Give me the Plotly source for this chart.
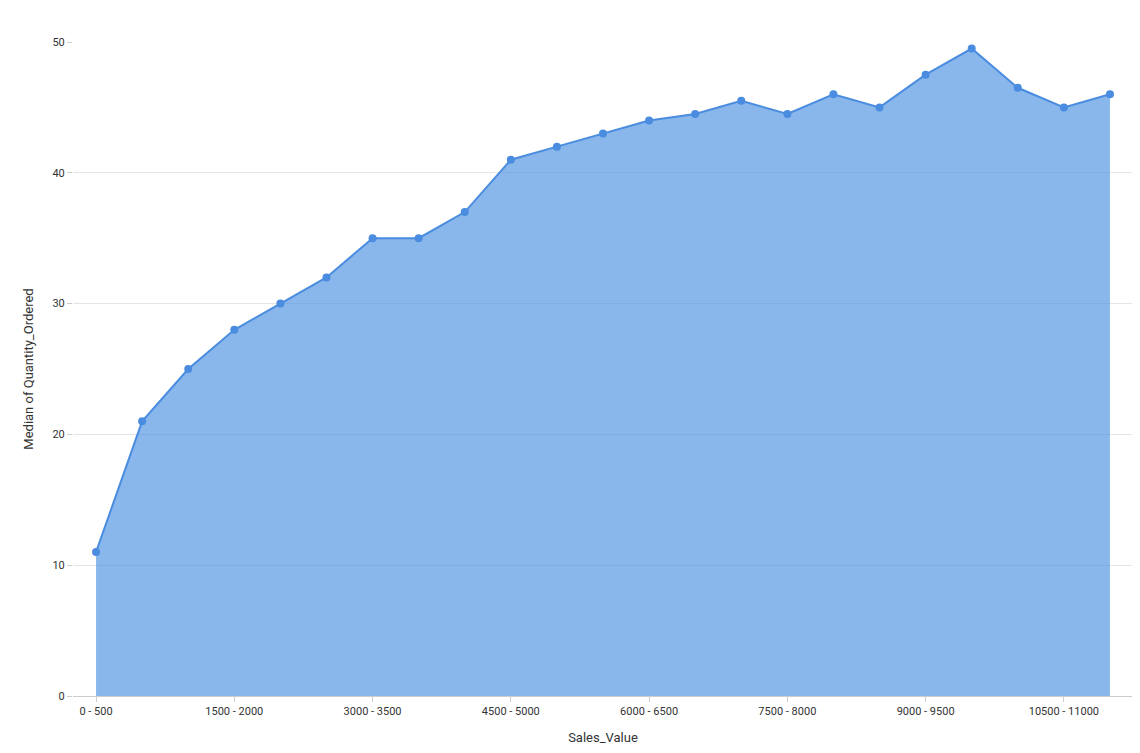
import plotly.graph_objects as go

categories = [f"{i*500} - {(i+1)*500}" for i in range(23)]
values = [11, 21, 25, 28, 30, 32, 35, 35, 37, 41, 42, 43, 44, 44.5, 45.5, 44.5, 46, 45, 47.5, 49.5, 46.5, 45, 46]
tick_labels = categories[::3]

fig = go.Figure(go.Scatter(
    x=categories, y=values, mode="lines+markers", fill="tozeroy",
    fillcolor="rgba(74,144,226,0.65)",
    line=dict(color="#4a8cdf", width=2), marker=dict(color="#4a8cdf", size=8)))
fig.update_layout(
    width=1140, height=753, plot_bgcolor="white", paper_bgcolor="white",
    margin=dict(l=65, r=15, t=34, b=65), showlegend=False,
    font=dict(family="Roboto", size=11, color="#333"),
    xaxis=dict(title=dict(text="Sales_Value", standoff=15), range=[-0.5, 22.5],
               tickmode="array", tickvals=tick_labels, ticktext=tick_labels,
               showline=True, linecolor="#ccc", ticks="outside", tickcolor="#ccc",
               showgrid=False),
    yaxis=dict(title=dict(text="Median of Quantity_Ordered"), range=[0, 50],
               dtick=10, gridcolor="#e5e5e5", zeroline=False, ticks="outside",
               tickcolor="#ccc", ticklen=5),
)
fig.write_html("out.html")
